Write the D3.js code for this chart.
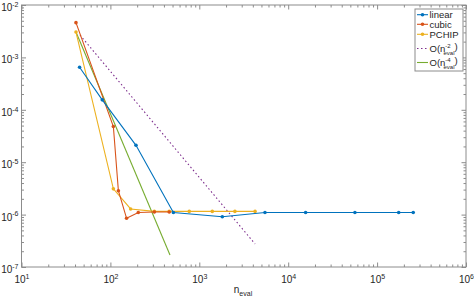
<!DOCTYPE html>
<html>
<head>
<meta charset="utf-8">
<script src="https://d3js.org/d3.v7.min.js"></script>
<style>
body { margin: 0; background: #fff; }
svg { font-family: "Liberation Sans", Arial, sans-serif; }
.axis path, .axis line { stroke: #8c8c8c; }
.axis text { fill: #262626; font-size: 10px; }
</style>
</head>
<body>
<svg width="474" height="300"></svg>
<script>
// data
var linearN   = [45, 81, 194, 511, 1815, 5480, 15700, 56300, 175000, 255000];
var linearErr = [6.5e-4, 1.55e-4, 2.1e-5, 1.1e-6, 9.1e-7, 1.1e-6, 1.1e-6, 1.1e-6, 1.1e-6, 1.1e-6];
var cubicN    = [41, 108, 123, 152, 206, 312, 459];
var cubicErr  = [4.6e-3, 4.8e-5, 2.86e-6, 8.5e-7, 1.1e-6, 1.12e-6, 1.12e-6];
var pchipN    = [41, 108, 169, 312, 459, 771, 1400, 2515, 4240];
var pchipErr  = [3.05e-3, 3.1e-6, 1.28e-6, 1.15e-6, 1.15e-6, 1.15e-6, 1.15e-6, 1.15e-6, 1.15e-6];
var ref2N     = [45.5, 4240];
var ref2Err   = [2.67e-3, 2.75e-7];
var ref4N     = [41, 468];
var ref4Err   = [3.05e-3, 1.7e-7];
var xExps = [1, 2, 3, 4, 5, 6];
var yExps = [-7, -6, -5, -4, -3, -2];
var legendLabels = ["linear", "cubic", "PCHIP"];

var svg = d3.select("svg");
var L = 21.5, R = 466, T = 5, B = 267;
var x = d3.scaleLog().domain([10, 1e6]).range([L, R]);
var y = d3.scaleLog().domain([1e-7, 1e-2]).range([B, T]);

var xMajor = xExps.map(function(e) { return Math.pow(10, e); });
var yMajor = yExps.map(function(e) { return Math.pow(10, e); });
var xMinor = [], yMinor = [];
xExps.slice(0, -1).forEach(function(e) { for (var k = 2; k < 10; k++) xMinor.push(k * Math.pow(10, e)); });
yExps.slice(0, -1).forEach(function(e) { for (var k = 2; k < 10; k++) yMinor.push(k * Math.pow(10, e)); });

function powLabel(sel, exps) {
  sel.each(function(d, i) {
    var t = d3.select(this).text(null);
    t.append("tspan").text("10");
    t.append("tspan").attr("dy", "-0.6em").style("font-size", "7px").text(exps[i]);
  });
}

// box
svg.append("rect").attr("x", L).attr("y", T).attr("width", R - L).attr("height", B - T)
  .attr("fill", "none").attr("stroke", "#8c8c8c");

// minor ticks on all sides
svg.append("g").attr("class", "axis").attr("transform", "translate(0," + B + ")")
  .call(d3.axisBottom(x).tickValues(xMinor).tickSize(-2.5).tickFormat(""));
svg.append("g").attr("class", "axis").attr("transform", "translate(0," + T + ")")
  .call(d3.axisTop(x).tickValues(xMinor).tickSize(-2.5).tickFormat(""));
svg.append("g").attr("class", "axis").attr("transform", "translate(" + L + ",0)")
  .call(d3.axisLeft(y).tickValues(yMinor).tickSize(-2.5).tickFormat(""));
svg.append("g").attr("class", "axis").attr("transform", "translate(" + R + ",0)")
  .call(d3.axisRight(y).tickValues(yMinor).tickSize(-2.5).tickFormat(""));

// major ticks + labels
var gx = svg.append("g").attr("class", "axis").attr("transform", "translate(0," + B + ")")
  .call(d3.axisBottom(x).tickValues(xMajor).tickSize(-4.5).tickPadding(9));
gx.selectAll("text").call(powLabel, xExps);
svg.append("g").attr("class", "axis").attr("transform", "translate(0," + T + ")")
  .call(d3.axisTop(x).tickValues(xMajor).tickSize(-4.5).tickFormat(""));
var gy = svg.append("g").attr("class", "axis").attr("transform", "translate(" + L + ",0)")
  .call(d3.axisLeft(y).tickValues(yMajor).tickSize(-4.5).tickPadding(3));
gy.selectAll("text").call(powLabel, yExps).attr("dy", "0.55em");
svg.append("g").attr("class", "axis").attr("transform", "translate(" + R + ",0)")
  .call(d3.axisRight(y).tickValues(yMajor).tickSize(-4.5).tickFormat(""));
svg.selectAll(".axis path.domain").remove();

// x label
var xl = svg.append("text").attr("x", 243).attr("y", 293).attr("text-anchor", "middle")
  .attr("fill", "#262626").style("font-size", "10px");
xl.append("tspan").text("n");
xl.append("tspan").attr("dy", "0.45em").style("font-size", "7px").text("eval");

var line = d3.line().x(function(d) { return x(d[0]); }).y(function(d) { return y(d[1]); });
function pairs(a, b) { return a.map(function(v, i) { return [v, b[i]]; }); }

var series = [
  { n: linearN, e: linearErr, c: "#0072BD", dash: null, mark: true },
  { n: cubicN, e: cubicErr, c: "#D95319", dash: null, mark: true },
  { n: pchipN, e: pchipErr, c: "#EDB120", dash: null, mark: true },
  { n: ref2N, e: ref2Err, c: "#7E2F8E", dash: "1.5,2.5", mark: false },
  { n: ref4N, e: ref4Err, c: "#77AC30", dash: null, mark: false }
];

var plot = svg.append("g");
series.slice().reverse().forEach(function(s) {
  var pts = pairs(s.n, s.e);
  plot.append("path").datum(pts).attr("d", line).attr("fill", "none")
    .attr("stroke", s.c).attr("stroke-width", 1.1).attr("stroke-dasharray", s.dash);
  if (s.mark) {
    plot.selectAll(null).data(pts).enter().append("circle")
      .attr("cx", function(d) { return x(d[0]); }).attr("cy", function(d) { return y(d[1]); })
      .attr("r", 1.8).attr("fill", s.c);
  }
});

// legend
var lg = svg.append("g");
lg.append("rect").attr("x", 415).attr("y", 9).attr("width", 48).attr("height", 62)
  .attr("fill", "#fff").attr("stroke", "#8c8c8c");
var rows = [14.7, 24.3, 34.3, 48.5, 62.5];
series.forEach(function(s, i) {
  var yy = rows[i];
  lg.append("line").attr("x1", 417).attr("x2", 428).attr("y1", yy).attr("y2", yy)
    .attr("stroke", s.c).attr("stroke-width", 1.1).attr("stroke-dasharray", s.dash);
  if (s.mark) lg.append("circle").attr("cx", 422.5).attr("cy", yy).attr("r", 1.8).attr("fill", s.c);
  var t = lg.append("text").attr("x", 429.5).attr("y", yy + 3.3).attr("fill", "#262626").style("font-size", "9.5px");
  if (i < 3) {
    t.text(legendLabels[i]);
  } else {
    t.append("tspan").text("O(n");
    t.append("tspan").attr("dy", "-0.65em").style("font-size", "6px").text(i === 3 ? "-2" : "-4");
    t.append("tspan").attr("x", 443.5).attr("dy", "1.25em").style("font-size", "6px").text("eval");
    t.append("tspan").attr("dy", "-0.6em").text(")");
  }
});
</script>
</body>
</html>
